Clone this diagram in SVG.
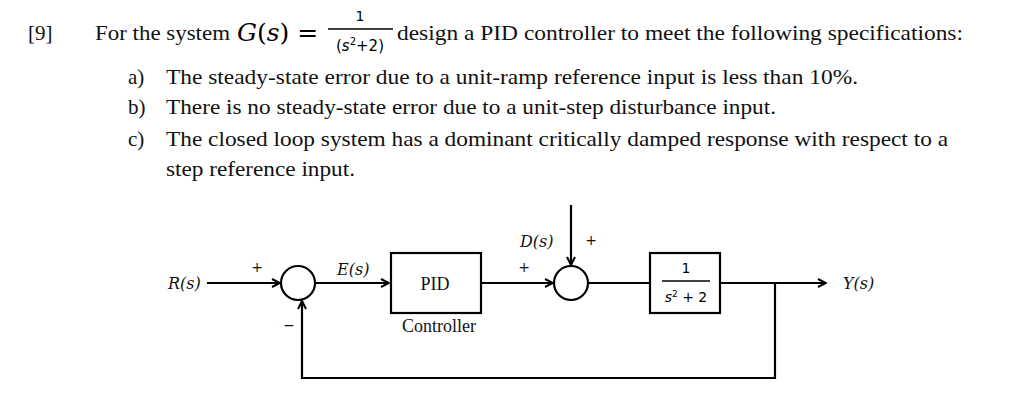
<svg xmlns="http://www.w3.org/2000/svg" width="1024" height="403" viewBox="0 0 1024 403">
<style>
.t{font-family:"Liberation Serif",serif;font-size:21px;fill:#111}
.m{font-family:"DejaVu Serif","Liberation Serif",serif;font-style:italic;font-size:16px;fill:#111}
.c{font-family:"Liberation Serif",serif;font-size:18px;fill:#111}
.l{stroke:#000;stroke-width:2.2;fill:none}
.s{font-family:"DejaVu Sans",sans-serif;font-size:14px;fill:#111}
</style>
<defs><marker id="a" markerWidth="10" markerHeight="10" refX="9" refY="5" orient="auto" markerUnits="userSpaceOnUse"><path d="M1,1 L9,5 L1,9" fill="none" stroke="#000" stroke-width="2"/></marker></defs>
<rect width="1024" height="403" fill="#fff"/>
<text class="t" x="28" y="40">[9]</text>
<text class="t" x="95" y="40" textLength="135" lengthAdjust="spacingAndGlyphs">For the system</text>
<text x="237" y="41" font-family="'DejaVu Serif',serif" font-size="25"><tspan font-style="italic">G</tspan>(<tspan font-style="italic">s</tspan>) =</text>
<text x="360" y="21" font-family="'DejaVu Sans',sans-serif" font-size="14" text-anchor="middle">1</text>
<line x1="328" y1="29" x2="393" y2="29" stroke="#000" stroke-width="1.5"/>
<text x="360" y="51" font-family="'DejaVu Sans',sans-serif" font-size="15" text-anchor="middle">(<tspan font-style="italic">s</tspan><tspan font-size="10" dy="-6">2</tspan><tspan dy="6">+2)</tspan></text>
<text class="t" x="397" y="40" textLength="566" lengthAdjust="spacingAndGlyphs">design a PID controller to meet the following specifications:</text>
<text class="t" x="128" y="84">a)</text><text class="t" x="166" y="84" textLength="692" lengthAdjust="spacingAndGlyphs">The steady-state error due to a unit-ramp reference input is less than 10%.</text>
<text class="t" x="128" y="114">b)</text><text class="t" x="166" y="114" textLength="610" lengthAdjust="spacingAndGlyphs">There is no steady-state error due to a unit-step disturbance input.</text>
<text class="t" x="128" y="146">c)</text><text class="t" x="166" y="146" textLength="782" lengthAdjust="spacingAndGlyphs">The closed loop system has a dominant critically damped response with respect to a</text>
<text class="t" x="166" y="176" textLength="189" lengthAdjust="spacingAndGlyphs">step reference input.</text>
<g id="sum1"><circle cx="298" cy="283" r="17" class="l"/></g>
<g id="pid"><rect x="391" y="253" width="90" height="60" class="l"/><text class="c" x="435" y="290" text-anchor="middle">PID</text><text class="c" x="439" y="332" text-anchor="middle">Controller</text></g>
<g id="sum2"><circle cx="571" cy="283" r="17" class="l"/></g>
<g id="plant"><rect x="650" y="253" width="70" height="60" class="l"/><text x="686" y="273" font-family="'DejaVu Sans',sans-serif" font-size="14" text-anchor="middle">1</text><line x1="662" y1="281" x2="710" y2="281" stroke="#000" stroke-width="1.3"/><text x="686" y="302" font-family="'DejaVu Sans',sans-serif" font-size="14" text-anchor="middle"><tspan font-style="italic">s</tspan><tspan font-size="9" dy="-5">2</tspan><tspan dy="5"> + 2</tspan></text></g>
<g id="connectors">
<path d="M207,283 H280" class="l" marker-end="url(#a)"/>
<path d="M315,283 H389" class="l" marker-end="url(#a)"/>
<path d="M481,283 H553" class="l" marker-end="url(#a)"/>
<path d="M571,205 V265" class="l" marker-end="url(#a)"/>
<path d="M588,283 H650" class="l"/>
<path d="M720,283 H826" class="l" marker-end="url(#a)"/>
<path d="M775,283 V378 H302 V301" class="l" marker-end="url(#a)"/>
</g>
<text class="m" x="168" y="289">R(s)</text>
<text class="m" x="843" y="289">Y(s)</text>
<text class="m" x="337" y="275">E(s)</text>
<text class="m" x="520" y="247">D(s)</text>
<text class="s" x="257" y="272" text-anchor="middle">+</text>
<text class="s" x="289" y="330" text-anchor="middle">−</text>
<text class="s" x="524" y="272" text-anchor="middle">+</text>
<text class="s" x="591" y="245" text-anchor="middle">+</text>
</svg>
